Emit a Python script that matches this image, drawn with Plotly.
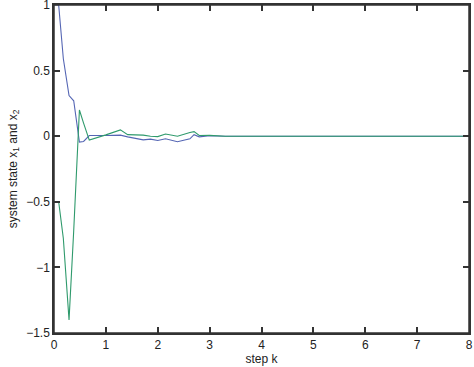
import plotly.graph_objects as go

k = [0, 0.09, 0.18, 0.29, 0.38, 0.49, 0.57, 0.68, 1.0, 1.28, 1.42, 1.72, 1.86,
     2.0, 2.15, 2.38, 2.62, 2.7, 2.8, 3.0, 3.3, 4, 5, 6, 7, 8]
x1 = [1, 1, 0.59, 0.31, 0.27, -0.045, -0.04, 0.005, 0.005, 0.008, -0.005, -0.028,
      -0.022, -0.033, -0.02, -0.042, -0.02, 0.012, -0.005, 0.004, 0, 0, 0, 0, 0, 0]
x2 = [-0.5, -0.5, -0.78, -1.4, -0.72, 0.2, 0.1, -0.03, 0.01, 0.048, 0.012, 0.008,
      0.0, -0.003, 0.017, 0.0, 0.028, 0.035, 0.005, 0.006, 0, 0, 0, 0, 0, 0]

x_ticks = [0, 1, 2, 3, 4, 5, 6, 7, 8]
y_ticks = [-1.5, -1, -0.5, 0, 0.5, 1]

fig = go.Figure()
fig.add_trace(go.Scatter(x=k, y=x1, mode="lines", line=dict(color="#5566b4", width=1.1)))
fig.add_trace(go.Scatter(x=k, y=x2, mode="lines", line=dict(color="#2f9a6c", width=1.1)))

axis_common = dict(showline=True, linecolor="#333333", linewidth=1.5, mirror="allticks",
                   ticks="inside", ticklen=6, tickcolor="#333333", tickwidth=1.5,
                   showgrid=False, zeroline=False, ticklabeloverflow="allow",
                   tickfont=dict(size=12, color="#222222"))
fig.update_layout(
    width=474, height=367,
    margin=dict(l=54, r=5, t=5, b=34, autoexpand=False),
    paper_bgcolor="white", plot_bgcolor="white",
    showlegend=False,
    font=dict(family="Liberation Sans, Arial, sans-serif", size=12, color="#222222"),
    xaxis=dict(range=[0, 8], tickvals=x_ticks, ticktext=[str(t) for t in x_ticks],
               title=dict(text="step k", standoff=2, font=dict(size=12)), **axis_common),
    yaxis=dict(range=[-1.5, 1], tickvals=y_ticks,
               ticktext=["\u22121.5", "\u22121", "\u22120.5", "0", "0.5", "1"],
               title=dict(text="system state x<sub>1</sub> and x<sub>2</sub>", standoff=6,
                          font=dict(size=12)), **axis_common),
    shapes=[dict(type="rect", xref="paper", yref="paper", x0=0, x1=1, y0=0, y1=1,
                 line=dict(color="#333333", width=1.5), layer="above")],
)
fig.write_html("out.html", config={"displayModeBar": False},
               post_script="document.body.style.margin='0';")
